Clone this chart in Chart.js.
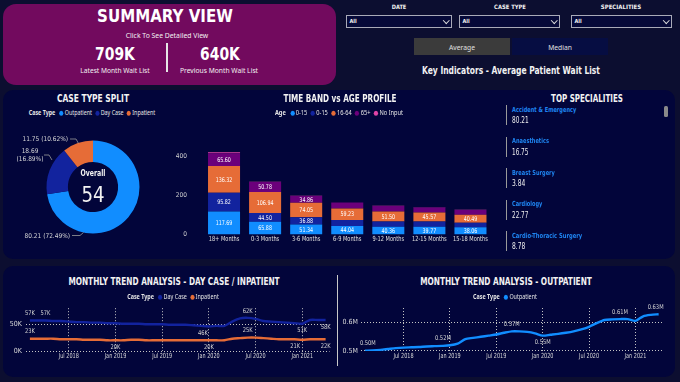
<!DOCTYPE html>
<html><head><meta charset="utf-8">
<script src="https://cdn.jsdelivr.net/npm/chart.js"></script>
<style>
html,body{margin:0;padding:0}
body{width:680px;height:382px;overflow:hidden;background:#0c0e30;position:relative;color:#fff}
.box{position:absolute}
.t{position:absolute;white-space:nowrap;line-height:1}
.dd{position:absolute;border:1px solid #a9aab8;background:#060938;box-sizing:border-box}
.chev{position:absolute;width:3.5px;height:3.5px;border-right:1.2px solid #ddd;border-bottom:1.2px solid #ddd;transform:rotate(45deg)}
canvas{position:absolute}
.lg{position:absolute;white-space:nowrap;line-height:1;display:flex;align-items:center}
.dot{display:inline-block;width:5px;height:5px;border-radius:50%;margin:0 1.5px 0 4px}
</style></head><body>
<!-- panels -->
<div class="box" style="left:3px;top:4px;width:333px;height:81px;background:#720a5e;border-radius:13px"></div>
<div class="box" style="left:166px;top:43px;width:1.5px;height:29px;background:#e6e6e6"></div>
<div class="box" style="left:3px;top:90px;width:672px;height:169px;background:#02053a;border-radius:10px"></div>
<div class="box" style="left:3px;top:266px;width:672px;height:111px;background:#02053a;border-radius:10px"></div>
<div class="box" style="left:336.5px;top:275px;width:1.5px;height:91px;background:#c9c9c9"></div>
<!-- filters -->
<div class="dd" style="left:346px;top:15px;width:106px;height:12.5px"></div>
<div class="dd" style="left:459px;top:15px;width:101px;height:12.5px"></div>
<div class="dd" style="left:571px;top:15px;width:101px;height:12.5px"></div>
<div class="chev" style="left:443.5px;top:18px"></div>
<div class="chev" style="left:551.5px;top:18px"></div>
<div class="chev" style="left:663.5px;top:18px"></div>
<div class="box" style="left:414px;top:38px;width:96px;height:17px;background:#3b3b3b"></div>
<div class="box" style="left:511.5px;top:38px;width:96px;height:17px;background:#060d42"></div>
<div class="box" style="left:663.5px;top:106px;width:4px;height:11px;background:#8a8a8a;border-radius:1.5px"></div>

<canvas id="donut" width="170" height="135" style="left:3px;top:120px"></canvas>
<canvas id="bars" width="325" height="129" style="left:170px;top:126px"></canvas>
<canvas id="lineL" width="330" height="63" style="left:3px;top:300px"></canvas>
<canvas id="lineR" width="326" height="63" style="left:340px;top:300px"></canvas>

<script>
// ---------------- DATA ----------------
const caseTypes = ['Outpatient','Day Case','Inpatient'];
const caseValues = [80.21, 18.69, 11.75];
const overallValue = '54';

const bandLabels = ['18+ Months','0-3 Months','3-6 Months','6-9 Months','9-12 Months','12-15 Months','15-18 Months'];
const age0_15a   = [117.69, 65.88, 51.34, 44.04, 40.36, 39.77, 38.06];
const age0_15b   = [95.82, 44.50, 36.88, 30, 26, 27, 23];
const age16_64   = [136.32, 106.94, 74.05, 59.23, 51.50, 45.57, 40.49];
const age65p     = [65.60, 50.78, 34.86, 30, 28, 26, 24];
const ageNoInput = [5, 1.5, 1, 1, 1, 1, 1];
const barTicks = [0, 200, 400];

const specNames  = ['Accident & Emergency','Anaesthetics','Breast Surgery','Cardiology','Cardio-Thoracic Surgery'];
const specValues = [80.21, 16.75, 3.84, 22.77, 8.78];

const months = ['Feb 2018','Mar 2018','Apr 2018','May 2018','Jun 2018','Jul 2018','Aug 2018','Sep 2018','Oct 2018','Nov 2018','Dec 2018',
 'Jan 2019','Feb 2019','Mar 2019','Apr 2019','May 2019','Jun 2019','Jul 2019','Aug 2019','Sep 2019','Oct 2019','Nov 2019','Dec 2019',
 'Jan 2020','Feb 2020','Mar 2020','Apr 2020','May 2020','Jun 2020','Jul 2020','Aug 2020','Sep 2020','Oct 2020','Nov 2020','Dec 2020',
 'Jan 2021','Feb 2021','Mar 2021','Apr 2021'];
const dayCaseK = [57,57,57,56,56,55,54,54,53,53,52,52,51,51,51,50,50,50,49,49,49,48,47,46,47,47,55,61,62,60,56,55,54,53,52,51,58,58,58];
const inpatientK = [23,23,23,23,22,22,22,21,21,21,20,20,20,21,21,20,20,20,20,20,20,20,20,20,20,20,23,24,25,25,24,23,22,22,22,21,22,22,22];
const outpatientM = [0.500,0.501,0.503,0.506,0.509,0.511,0.512,0.513,0.515,0.516,0.517,0.519,0.525,0.541,0.545,0.549,0.553,0.557,0.563,0.568,
 0.568,0.566,0.561,0.553,0.556,0.559,0.563,0.568,0.575,0.584,0.597,0.608,0.610,0.611,0.611,0.605,0.621,0.626,0.628];
const leftTicks = [0, 50];
const rightTicks = [0.5, 0.6];

// ---------------- STYLE / LAYOUT ----------------
const DIN = '"DejaVu Sans Condensed","DejaVu Sans",sans-serif';
const SEG = '"Noto Sans","Open Sans",sans-serif';
const CH  = '"DejaVu Sans Condensed",sans-serif';
const C_OUT='#118DFF', C_DAY='#12239E', C_IN='#E66C37', C_65='#6B007B', C_NI='#E044A7';

function addText(o){
  const d=document.createElement('div');
  d.className='t'; d.textContent=o.s;
  d.style.left=o.x+'px'; d.style.top=o.y+'px';
  d.style.fontSize=o.f+'px'; d.style.fontWeight=o.b||400;
  d.style.color=o.c||'#f2f2f2'; d.style.fontFamily=o.ff||DIN;
  document.body.appendChild(d);
  const w=d.offsetWidth; let k=o.w? o.w/w : 1;
  const left=o.a==='l';
  d.style.transformOrigin=left?'left center':'center center';
  d.style.transform='translate('+(left?'0':'-50%')+',-50%) scaleX('+k+')';
}
function legend(x,y,w,title,items){
  const d=document.createElement('div'); d.className='lg';
  d.style.left=x+'px'; d.style.top=y+'px'; d.style.fontFamily=SEG; d.style.fontSize='6.5px'; d.style.color='#e6e6e6';
  let h='<span style="font-weight:700;margin-right:1px">'+title+'</span>';
  items.forEach(it=>{h+='<span class="dot" style="background:'+it[0]+'"></span><span>'+it[1]+'</span>';});
  d.innerHTML=h; document.body.appendChild(d);
  const k=w/d.offsetWidth;
  d.style.transform='translate(-50%,-50%) scaleX('+k+')';
}

[
 {s:'SUMMARY VIEW',x:164.5,y:16,f:17,b:700,w:136,c:'#fff'},
 {s:'Click To See Detailed View',x:167,y:34.5,f:7,ff:SEG,w:82},
 {s:'709K',x:115,y:54,f:17,b:700,w:40,c:'#fff'},
 {s:'Latest Month Wait List',x:114.7,y:71,f:7.5,ff:SEG,w:69},
 {s:'640K',x:219.5,y:54,f:17,b:700,w:40,c:'#fff'},
 {s:'Previous Month Wait List',x:219,y:71,f:7.5,ff:SEG,w:78},
 {s:'DATE',x:399,y:7,f:6,b:700,w:15},
 {s:'CASE TYPE',x:510,y:7,f:6,b:700,w:32},
 {s:'SPECIALITIES',x:621,y:7,f:6,b:700,w:40},
 {s:'All',x:349.5,y:21.5,f:5.5,b:700,a:'l'},
 {s:'All',x:462.5,y:21.5,f:5.5,b:700,a:'l'},
 {s:'All',x:574.5,y:21.5,f:5.5,b:700,a:'l'},
 {s:'Average',x:462,y:46.5,f:7,ff:SEG,w:26,c:'#e0e0e0'},
 {s:'Median',x:560.3,y:46.5,f:7,ff:SEG,w:24,c:'#e0e0e0'},
 {s:'Key Indicators - Average Patient Wait List',x:510.5,y:70.5,f:10,b:700,w:178},
 {s:'CASE TYPE SPLIT',x:92.5,y:98.5,f:10,b:700,w:72},
 {s:'TIME BAND vs AGE PROFILE',x:340,y:99,f:10,b:700,w:113},
 {s:'TOP SPECIALITIES',x:587,y:98.5,f:10,b:700,w:72},
 {s:'Overall',x:92.5,y:173,f:8.5,b:700,w:25},
 {s:overallValue,x:93.3,y:195,f:22,w:23},
 {s:'MONTHLY TREND ANALYSIS - DAY CASE / INPATIENT',x:173.8,y:282,f:10,b:700,w:211},
 {s:'MONTHLY TREND ANALYSIS - OUTPATIENT',x:505.8,y:282,f:10,b:700,w:172}
].forEach(addText);

legend(91.7,113,126.7,'Case Type',[[C_OUT,'Outpatient'],[C_DAY,'Day Case'],[C_IN,'Inpatient']]);
legend(339,113,128.3,'Age',[[C_OUT,'0-15'],[C_DAY,'0-15'],[C_IN,'16-64'],[C_65,'65+'],[C_NI,'No Input']]);
legend(172.5,297,91.6,'Case Type',[[C_DAY,'Day Case'],[C_IN,'Inpatient']]);
legend(504.7,297,64,'Case Type',[[C_OUT,'Outpatient']]);

// top specialities list
const specY0 = 109.8, specStep = 31.5;
const specNameW = [64.3, 37, 43.3, 30.3, 70.3];
const specValW = [17, 16.7, 13.3, 16.7, 13.3];
specNames.forEach((n,i)=>{
  const y=specY0+i*specStep;
  const bar=document.createElement('div'); bar.className='box';
  bar.style.cssText='left:505.7px;top:'+(y-4.5)+'px;width:1.8px;height:20px;background:#9a9a9a';
  document.body.appendChild(bar);
  addText({s:n,x:512.3,y:y,f:7,b:700,c:'#1f86f2',a:'l',w:specNameW[i]});
  addText({s:specValues[i].toFixed(2),x:512.3,y:y+11.5,f:8,c:'#eeeeee',a:'l',w:specValW[i]});
});

// ---------------- CHARTS ----------------
Chart.defaults.font.family = CH;
Chart.defaults.color = '#d9d9d9';
Chart.defaults.animation = false;
Chart.defaults.responsive = false;
Chart.defaults.devicePixelRatio = 1;
Chart.defaults.plugins.legend.display = false;
Chart.defaults.plugins.tooltip.enabled = false;

function fillNarrow(ctx,s,x,y,k){ ctx.save(); ctx.translate(x,y); ctx.scale(k,1); ctx.fillText(s,0,0); ctx.restore(); }

// donut
const donutPos = [
 {x:70,y:236,align:'right',split:false,lead:[[72,235.5],[80,235.5],[83.5,232.5]]},
 {x:30,y:151,align:'center',split:true,lead:[[44,155],[49,155],[52,160]]},
 {x:68,y:139,align:'right',split:false,lead:[[70,139],[76,139],[78.5,143.5]]}
];
const donutLabels = {id:'donutLabels', afterDraw(chart){
  const ctx=chart.ctx, ox=3, oy=120;
  const vals=chart.data.datasets[0].data; const tot=vals.reduce((a,b)=>a+b,0);
  ctx.save(); ctx.font='6.5px '+CH; ctx.fillStyle='#d6d6d6'; ctx.strokeStyle='#9a9a9a'; ctx.lineWidth=0.8; ctx.textBaseline='middle';
  vals.forEach((v,i)=>{
    const p=donutPos[i]; const a=v.toFixed(2), b='('+(v/tot*100).toFixed(2)+'%)';
    ctx.textAlign=p.align;
    if(p.split){ ctx.fillText(a,p.x-ox,p.y-oy); ctx.fillText(b,p.x-ox,p.y-oy+8); }
    else ctx.fillText(a+' '+b,p.x-ox,p.y-oy);
    ctx.beginPath(); p.lead.forEach((q,j)=>{ if(j===0) ctx.moveTo(q[0]-ox,q[1]-oy); else ctx.lineTo(q[0]-ox,q[1]-oy);}); ctx.stroke();
  });
  ctx.restore();
}};
new Chart(document.getElementById('donut'),{
  type:'doughnut',
  data:{labels:caseTypes,datasets:[{data:caseValues,backgroundColor:[C_OUT,C_DAY,C_IN],borderWidth:0}]},
  options:{cutout:'54%',layout:{padding:{left:43.5,right:33.5,top:20.5,bottom:21.5}}},
  plugins:[donutLabels]
});

// stacked bars
const barLabels = {id:'barLabels', afterDatasetsDraw(chart){
  const ctx=chart.ctx; ctx.save(); ctx.font='6.5px '+CH; ctx.fillStyle='#ffffff'; ctx.textAlign='center'; ctx.textBaseline='middle';
  const k=16.7/ctx.measureText('136.32').width;
  chart.data.datasets.forEach((ds,di)=>{ if(di===4) return;
    chart.getDatasetMeta(di).data.forEach((el,i)=>{ const v=ds.data[i]; if(v<34) return;
      fillNarrow(ctx, v.toFixed(2), el.x, (el.y+el.base)/2+0.5, k); });
  });
  // category labels under the bars, condensed
  const sx=chart.scales.x; ctx.font='7px '+CH; ctx.fillStyle='#e0e0e0';
  const kx=30.7/ctx.measureText(chart.data.labels[0]).width;
  chart.data.labels.forEach((l,i)=>fillNarrow(ctx,l,sx.getPixelForTick(i),sx.top+5,kx));
  ctx.restore();
}};
new Chart(document.getElementById('bars'),{
  type:'bar',
  data:{labels:bandLabels,datasets:[
    {label:'0-15',data:age0_15a,backgroundColor:C_OUT},
    {label:'0-15',data:age0_15b,backgroundColor:C_DAY},
    {label:'16-64',data:age16_64,backgroundColor:C_IN},
    {label:'65+',data:age65p,backgroundColor:C_65},
    {label:'No Input',data:ageNoInput,backgroundColor:C_NI}]},
  options:{
    layout:{padding:{top:10,right:4}},
    datasets:{bar:{barPercentage:0.78,categoryPercentage:1}},
    scales:{
      x:{stacked:true,grid:{display:false},border:{display:false},ticks:{display:false},afterFit:s=>{s.height=15;}},
      y:{stacked:true,min:0,max:450,grid:{display:false,drawTicks:false},border:{display:false},ticks:{font:{size:6.5},padding:16.5,color:'#d0d0d0'},
         afterBuildTicks:s=>{s.ticks=barTicks.map(v=>({value:v}));},afterFit:s=>{s.width=33.5;}}
    }
  },
  plugins:[barLabels]
});

// line charts
function isMark(i){ const m=months[i]||''; return m.startsWith('Jan')||m.startsWith('Jul'); }
function pointLabels(cfg){ return {id:'pl', afterDatasetsDraw(chart){
  const ctx=chart.ctx; ctx.save(); ctx.font='6.5px '+CH; ctx.fillStyle='#d4d4d4'; ctx.textAlign='center'; ctx.textBaseline='middle';
  cfg.forEach(c=>{ const el=chart.getDatasetMeta(c[0]).data[c[1]]; const v=chart.data.datasets[c[0]].data[c[1]];
    fillNarrow(ctx, cfg.fmt(v), el.x+(c[3]||0), el.y+(c[2]==='a'?-7:7), 0.88); });
  // month labels on the time axis, condensed
  const sx=chart.scales.x; ctx.font='7px '+CH; ctx.fillStyle='#d8d8d8';
  const k=20/ctx.measureText('Jul 2018').width;
  months.forEach((m,i)=>{ if(isMark(i)) fillNarrow(ctx,m,sx.getPixelForTick(i),sx.top+5.5,k); });
  ctx.restore(); }}; }
function lineChart(id,datasets,yMin,yMax,yTicks,yFmt,axisW,tickPad,lbls){
  return new Chart(document.getElementById(id),{
    type:'line',
    data:{labels:months,datasets:datasets.map(d=>({data:d[0],borderColor:d[1],borderWidth:2.4,pointRadius:0,tension:0.25,fill:false}))},
    options:{
      layout:{padding:{top:8,right:3.5}},
      scales:{
        x:{offset:true,grid:{drawTicks:false,lineWidth:1,color:c=>isMark(c.index)?'#c4c4c4':'rgba(0,0,0,0)'},border:{display:false,dash:[1,2]},
           ticks:{display:false,autoSkip:false,maxRotation:0},
           afterFit:s=>{s.height=12;}},
        y:{min:yMin,max:yMax,grid:{drawTicks:false,color:'#c4c4c4',lineWidth:1},border:{display:false,dash:[1,2]},
           ticks:{font:{size:7},padding:tickPad,color:'#d8d8d8',callback:yFmt},
           afterBuildTicks:s=>{s.ticks=yTicks.map(v=>({value:v}));},afterFit:s=>{s.width=axisW;}}
      }
    },
    plugins:[pointLabels(lbls)]
  });
}
const lblLeft = [[0,0,'a'],[0,2,'a'],[0,23,'b',-6],[0,28,'a'],[0,35,'b',0],[0,38,'b'],
                 [1,0,'a'],[1,11,'b'],[1,23,'b'],[1,28,'a'],[1,35,'b',-7],[1,38,'b']];
lblLeft.fmt = v=>Math.round(v)+'K';
const lblRight = [[0,0,'a',3],[0,11,'a',-7],[0,19,'a'],[0,23,'b'],[0,33,'a'],[0,38,'a',-3]];
lblRight.fmt = v=>v.toFixed(2)+'M';
lineChart('lineL',[[dayCaseK,C_DAY],[inpatientK,C_IN]],0,80,leftTicks,v=>v+'K',23,4,lblLeft);
lineChart('lineR',[[outpatientM,C_OUT]],0.499,0.650,rightTicks,v=>v.toFixed(1)+'M',21,3,lblRight);
</script>
</body></html>
